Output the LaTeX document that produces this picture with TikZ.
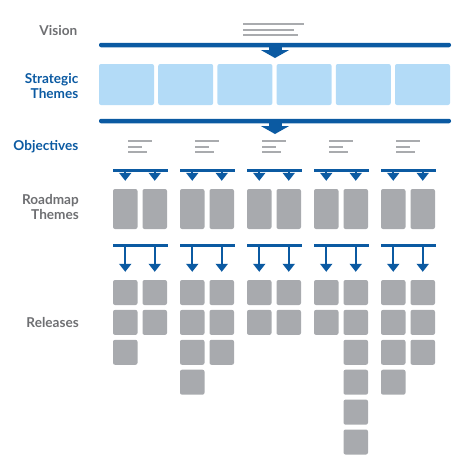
\documentclass[tikz,border=0pt]{standalone}
\usepackage{fontspec}
\setmainfont{Lato}
\usetikzlibrary{arrows.meta}
\definecolor{navy}{HTML}{0B5AA2}
\definecolor{lblue}{HTML}{B3DBF7}
\definecolor{boxgray}{HTML}{A8AAAE}
\definecolor{textgray}{HTML}{6E6F72}
\definecolor{linegray}{HTML}{A9ABAE}
\begin{document}
\begin{tikzpicture}[x=1pt,y=-1pt,
  lbl/.style={font=\bfseries\fontsize{13.6}{14.8}\selectfont, align=right, anchor=east, inner sep=0},
  bigbar/.style={fill=navy, rounded corners=2, minimum height=4.5, minimum width=352, inner sep=0},
  smallbar/.style={fill=navy, minimum height=3, minimum width=55, inner sep=0},
  stbox/.style={fill=lblue, rounded corners=2, minimum width=55, minimum height=41, inner sep=0},
  rmbox/.style={fill=boxgray, rounded corners=2, minimum width=24.5, minimum height=40, inner sep=0},
  relbox/.style={fill=boxgray, rounded corners=2, minimum width=24.5, minimum height=25, inner sep=0},
  bigarr/.style={navy, line width=13, -{Triangle[width=28,length=8]}},
  smarr/.style={navy, line width=2.2, -{Triangle[width=12,length=8]}},
  txtline/.style={linegray, line width=2}]
\useasboundingbox (0,0) rectangle (474,475);
% labels
\node[lbl, text=textgray] (lvision) at (77.5,31) {Vision};
\node[lbl, text=navy] (lst) at (78.5,86) {Strategic\\Themes};
\node[lbl, text=navy] (lobj) at (78.5,147) {Objectives};
\node[lbl, text=textgray] (lrm) at (79,207) {Roadmap\\Themes};
\node[lbl, text=textgray] (lrel) at (79,322) {Releases};
% vision text lines
\draw[txtline] (243,24) -- (304,24);
\draw[txtline] (243,30) -- (294,30);
\draw[txtline] (243,35) -- (298,35);
% bars
\node[bigbar] (bar1) at (275,45) {};
\node[bigbar] (bar2) at (275,121) {};
\coordinate (tip1) at (275,58);
\coordinate (tip2) at (275,134);
\draw[bigarr] (bar1.center) -- (tip1);
\draw[bigarr] (bar2.center) -- (tip2);
% strategic themes
\foreach \i in {0,...,5}{
  \node[stbox] (st\i) at ({99+27.5+59.2*\i},84.5) {};
}
% groups
\foreach \g/\na/\nb in {0/3/2, 1/4/3, 2/2/2, 3/2/6, 4/4/3}{
  \pgfmathsetmacro{\L}{113+67*\g}
  % objective lines
  \draw[txtline] (\L+15,141) -- (\L+39,141);
  \draw[txtline] (\L+15,146.5) -- (\L+29,146.5);
  \draw[txtline] (\L+15,152) -- (\L+34,152);
  % small bar and roadmap boxes
  \node[smallbar] (sb\g) at (\L+27.5,170) {};
  \node[rmbox] (rma\g) at (\L+12.25,209) {};
  \node[rmbox] (rmb\g) at (\L+41.75,209) {};
  \draw[smarr, shorten >=8] (sb\g.center -| rma\g.north) -- (rma\g.north);
  \draw[smarr, shorten >=8] (sb\g.center -| rmb\g.north) -- (rmb\g.north);
  % lower bar
  \node[smallbar] (lb\g) at (\L+27.5,245) {};
  \foreach \k in {1,...,\na}{
    \node[relbox] (ra\g-\k) at (\L+12.25,{292.5+29.9*(\k-1)}) {};
  }
  \foreach \k in {1,...,\nb}{
    \node[relbox] (rb\g-\k) at (\L+41.75,{292.5+29.9*(\k-1)}) {};
  }
  \draw[smarr, shorten >=8] (lb\g.center -| ra\g-1.north) -- (ra\g-1.north);
  \draw[smarr, shorten >=8] (lb\g.center -| rb\g-1.north) -- (rb\g-1.north);
}
\end{tikzpicture}
\end{document}
